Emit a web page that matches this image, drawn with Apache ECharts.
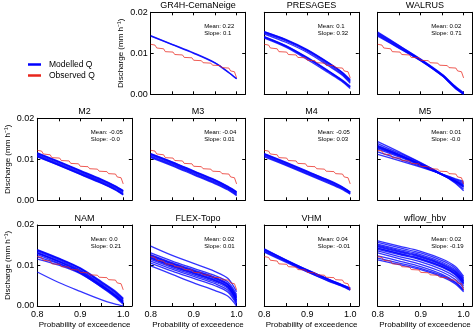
<!DOCTYPE html>
<html><head><meta charset="utf-8">
<script src="https://cdn.jsdelivr.net/npm/echarts@6/dist/echarts.min.js"></script>
<style>html,body{margin:0;padding:0;background:#fff}#c{width:474px;height:332px}</style>
</head><body><div id="c"></div>
<script>
// ---------- data ----------
const modelNames = ['GR4H-CemaNeige','PRESAGES','WALRUS','M2','M3','M4','M5','NAM','FLEX-Topo','VHM','wflow_hbv'];
const meanLabels = ['0.22','0.1','0.02','-0.05','-0.04','-0.05','0.01','0.0','0.02','0.04','0.02'];
const slopeLabels = ['0.1','0.32','0.71','-0.0','0.01','0.03','-0.0','0.21','0.01','-0.01','-0.19'];
const xTickLabels = ['0.8','0.9','1.0'];
const yTickLabels = ['0.00','0.01','0.02'];
const legendNames = ['Modelled Q','Observed Q'];

// observed flow duration (step-like)
const obsX = [0.800,0.810,0.814,0.830,0.834,0.852,0.856,0.874,0.878,0.896,0.900,0.918,0.922,0.940,0.944,0.962,0.966,0.982,0.986,0.995,1.000];
const obsQ = [0.0122,0.0120,0.0113,0.0111,0.0104,0.0103,0.0097,0.0096,0.0090,0.0089,0.0083,0.0082,0.0077,0.0076,0.0071,0.0070,0.0065,0.0064,0.0057,0.0055,0.0040];

// simulated ensembles: each row = one member, values at simX
const simX = [0.80,0.85,0.90,0.95,0.98,1.00];
const simGR4H = [
  [0.0142,0.0121,0.0100,0.0076,0.0054,0.0038],
  [0.0143,0.0122,0.0101,0.0077,0.0055,0.0038]
];
const simPRESAGES = [
  [0.0153,0.0134,0.0109,0.0077,0.0055,0.0036],
  [0.0152,0.0133,0.0108,0.0076,0.0054,0.0034],
  [0.0151,0.0132,0.0107,0.0075,0.0053,0.0033],
  [0.0149,0.0130,0.0105,0.0072,0.0050,0.0030],
  [0.0147,0.0127,0.0102,0.0069,0.0048,0.0027],
  [0.0141,0.0119,0.0090,0.0057,0.0036,0.0020],
  [0.0140,0.0118,0.0089,0.0056,0.0035,0.0018],
  [0.0139,0.0117,0.0088,0.0055,0.0034,0.0017],
  [0.0137,0.0115,0.0085,0.0052,0.0032,0.0014]
];
const simWALRUS = [
  [0.0152,0.0119,0.0086,0.0049,0.0020,0.0004],
  [0.0150,0.0118,0.0085,0.0048,0.0019,0.0003],
  [0.0148,0.0116,0.0084,0.0047,0.0018,0.0002],
  [0.0146,0.0115,0.0083,0.0046,0.0017,0.0001],
  [0.0144,0.0113,0.0082,0.0045,0.0016,0.0000],
  [0.0142,0.0112,0.0082,0.0045,0.0015,0.0000]
];
const simM2 = [
  [0.0116,0.0095,0.0073,0.0051,0.0036,0.0024],
  [0.0115,0.0094,0.0072,0.0050,0.0035,0.0023],
  [0.0114,0.0093,0.0071,0.0049,0.0034,0.0022],
  [0.0112,0.0091,0.0069,0.0047,0.0032,0.0020],
  [0.0110,0.0089,0.0067,0.0045,0.0030,0.0017],
  [0.0108,0.0087,0.0065,0.0043,0.0028,0.0015],
  [0.0107,0.0086,0.0064,0.0042,0.0027,0.0014],
  [0.0106,0.0085,0.0063,0.0041,0.0026,0.0013]
];
const simM3 = [
  [0.0114,0.0094,0.0072,0.0050,0.0034,0.0021],
  [0.0113,0.0093,0.0071,0.0049,0.0033,0.0020],
  [0.0112,0.0092,0.0070,0.0048,0.0032,0.0019],
  [0.0110,0.0090,0.0068,0.0046,0.0030,0.0017],
  [0.0108,0.0088,0.0066,0.0044,0.0029,0.0015],
  [0.0106,0.0086,0.0064,0.0042,0.0027,0.0013],
  [0.0104,0.0084,0.0062,0.0040,0.0025,0.0011]
];
const simM4 = [
  [0.0114,0.0093,0.0071,0.0049,0.0034,0.0020],
  [0.0113,0.0092,0.0070,0.0048,0.0033,0.0020],
  [0.0112,0.0091,0.0069,0.0047,0.0032,0.0019],
  [0.0110,0.0089,0.0067,0.0045,0.0030,0.0018],
  [0.0108,0.0087,0.0065,0.0043,0.0029,0.0016],
  [0.0106,0.0085,0.0063,0.0041,0.0027,0.0015]
];
const simM5 = [
  [0.0143,0.0118,0.0092,0.0063,0.0042,0.0023],
  [0.0138,0.0115,0.0091,0.0064,0.0044,0.0027],
  [0.0134,0.0112,0.0089,0.0063,0.0046,0.0031],
  [0.0132,0.0111,0.0088,0.0063,0.0046,0.0033],
  [0.0131,0.0110,0.0087,0.0062,0.0047,0.0034],
  [0.0129,0.0109,0.0087,0.0062,0.0047,0.0036],
  [0.0128,0.0108,0.0086,0.0062,0.0048,0.0037],
  [0.0125,0.0106,0.0085,0.0063,0.0049,0.0040],
  [0.0118,0.0101,0.0083,0.0064,0.0051,0.0043],
  [0.0112,0.0097,0.0081,0.0064,0.0053,0.0046]
];
const simNAM = [
  [0.0139,0.0118,0.0094,0.0060,0.0038,0.0019],
  [0.0138,0.0117,0.0093,0.0058,0.0036,0.0017],
  [0.0137,0.0116,0.0092,0.0057,0.0035,0.0016],
  [0.0135,0.0114,0.0089,0.0054,0.0032,0.0013],
  [0.0132,0.0111,0.0087,0.0052,0.0029,0.0010],
  [0.0131,0.0110,0.0085,0.0050,0.0027,0.0008],
  [0.0130,0.0109,0.0084,0.0049,0.0026,0.0007],
  [0.0127,0.0106,0.0081,0.0046,0.0023,0.0004],
  [0.0121,0.0104,0.0082,0.0050,0.0028,0.0012],
  [0.0116,0.0101,0.0080,0.0047,0.0025,0.0008],
  [0.0084,0.0058,0.0036,0.0015,0.0005,0.0000]
];
const simFLEX = [
  [0.0148,0.0125,0.0105,0.0085,0.0068,0.0035],
  [0.0131,0.0111,0.0093,0.0075,0.0059,0.0028],
  [0.0127,0.0107,0.0089,0.0071,0.0055,0.0024],
  [0.0125,0.0105,0.0087,0.0069,0.0053,0.0021],
  [0.0124,0.0104,0.0086,0.0068,0.0052,0.0020],
  [0.0121,0.0101,0.0083,0.0065,0.0049,0.0016],
  [0.0119,0.0099,0.0081,0.0063,0.0047,0.0014],
  [0.0118,0.0098,0.0080,0.0062,0.0046,0.0013],
  [0.0115,0.0095,0.0077,0.0059,0.0043,0.0010],
  [0.0111,0.0091,0.0073,0.0055,0.0039,0.0007],
  [0.0106,0.0086,0.0068,0.0050,0.0034,0.0004],
  [0.0099,0.0078,0.0057,0.0038,0.0024,0.0000]
];
const simVHM = [
  [0.0141,0.0114,0.0089,0.0066,0.0053,0.0044],
  [0.0140,0.0114,0.0089,0.0066,0.0053,0.0044],
  [0.0139,0.0113,0.0088,0.0065,0.0052,0.0043],
  [0.0137,0.0111,0.0087,0.0064,0.0051,0.0042],
  [0.0135,0.0110,0.0085,0.0062,0.0050,0.0040],
  [0.0133,0.0108,0.0084,0.0061,0.0049,0.0039]
];
const simWFLOW = [
  [0.0161,0.0148,0.0135,0.0116,0.0098,0.0073],
  [0.0157,0.0144,0.0131,0.0112,0.0094,0.0069],
  [0.0153,0.0140,0.0127,0.0108,0.0090,0.0066],
  [0.0150,0.0137,0.0124,0.0105,0.0087,0.0063],
  [0.0148,0.0135,0.0122,0.0103,0.0085,0.0061],
  [0.0146,0.0133,0.0120,0.0101,0.0083,0.0060],
  [0.0143,0.0130,0.0117,0.0098,0.0080,0.0057],
  [0.0142,0.0129,0.0116,0.0097,0.0079,0.0056],
  [0.0140,0.0127,0.0114,0.0095,0.0077,0.0054],
  [0.0136,0.0122,0.0109,0.0090,0.0072,0.0050],
  [0.0131,0.0117,0.0103,0.0084,0.0066,0.0045],
  [0.0124,0.0111,0.0097,0.0078,0.0060,0.0040],
  [0.0118,0.0106,0.0093,0.0075,0.0058,0.0038],
  [0.0114,0.0102,0.0090,0.0072,0.0055,0.0035]
];
const simAll = [simGR4H, simPRESAGES, simWALRUS, simM2, simM3, simM4, simM5, simNAM, simFLEX, simVHM, simWFLOW];

// ---------- layout ----------
const FONT = '"Liberation Sans", Arial, sans-serif';
const BLUE = '#0000ff', RED = '#e8261c';
const colLeft = [37.3, 150.7, 264.3, 377.7];
const panelW = 94.5;
const rowTop = [12.3, 118.3, 225];
const panelH = [82, 82, 81];
const slots = [[0,1],[0,2],[0,3],[1,0],[1,1],[1,2],[1,3],[2,0],[2,1],[2,2],[2,3]];

const grids = [], xAxes = [], yAxes = [], series = [], titles = [], graphics = [];
const tick = {show: true, inside: true, length: 3, lineStyle: {color: '#000', width: 1}};
const line = {show: true, onZero: false, lineStyle: {color: '#000', width: 1}};

slots.forEach(([r, c], i) => {
  const left = colLeft[c], top = rowTop[r], h = panelH[r];
  grids.push({left: left, top: top, width: panelW, height: h, containLabel: false});
  const showX = r === 2;
  const showY = c === 0 || (r === 0 && c === 1);
  xAxes.push({
    type: 'value', gridIndex: i, position: 'bottom', min: 0.8, max: 1.02, interval: 0.05,
    axisLine: line, axisTick: tick, splitLine: {show: false},
    axisLabel: {show: showX, margin: 4, fontSize: 9, color: '#000', fontFamily: FONT,
      showMaxLabel: false,
      formatter: v => {
        const s = (+v).toFixed(1);
        return (Math.abs(v * 10 - Math.round(v * 10)) < 1e-6 && xTickLabels.includes(s)) ? s : '';
      }},
    name: showX ? 'Probability of exceedence' : '', nameLocation: 'middle', nameGap: 15,
    nameTextStyle: {fontSize: 8, color: '#000', fontFamily: FONT}
  });
  xAxes.push({
    type: 'value', gridIndex: i, position: 'top', min: 0.8, max: 1.02, interval: 0.05,
    axisLine: line, axisTick: tick, splitLine: {show: false}, axisLabel: {show: false}
  });
  yAxes.push({
    type: 'value', gridIndex: i, position: 'left', min: 0, max: 0.02, interval: 0.01,
    axisLine: line, axisTick: tick, splitLine: {show: false},
    axisLabel: {show: showY, margin: 3, fontSize: 9, color: '#000', fontFamily: FONT,
      formatter: v => yTickLabels[Math.round(v / 0.01)] || ''},
    name: showY ? 'Discharge (mm h\u207B\u00B9)' : '', nameLocation: 'middle', nameGap: 26, nameRotate: 90,
    nameTextStyle: {fontSize: 8, color: '#000', fontFamily: FONT}
  });
  yAxes.push({
    type: 'value', gridIndex: i, position: 'right', min: 0, max: 0.02, interval: 0.01,
    axisLine: line, axisTick: tick, splitLine: {show: false}, axisLabel: {show: false}
  });
  simAll[i].forEach(member => {
    series.push({
      type: 'line', name: legendNames[0], xAxisIndex: 2 * i, yAxisIndex: 2 * i,
      data: simX.map((x, j) => [x, member[j]]),
      showSymbol: false, smooth: 0.3, silent: true,
      itemStyle: {color: BLUE}, lineStyle: {color: BLUE, width: 1.3, opacity: 0.8}
    });
  });
  series.push({
    type: 'line', name: legendNames[1], xAxisIndex: 2 * i, yAxisIndex: 2 * i,
    data: obsX.map((x, j) => [x, obsQ[j]]),
    showSymbol: false, silent: true, z: 3,
    itemStyle: {color: RED}, lineStyle: {color: RED, width: 1, opacity: 0.75}
  });
  titles.push({
    text: modelNames[i], left: left + panelW / 2, top: top - 11, textAlign: 'center', padding: 0,
    textStyle: {fontSize: 9, fontWeight: 'normal', color: '#000', fontFamily: FONT}
  });
  graphics.push({type: 'text', left: left + 53.5, top: top + 11,
    style: {text: 'Mean: ' + meanLabels[i], fontSize: 6, fill: '#000', fontFamily: FONT}});
  graphics.push({type: 'text', left: left + 53.5, top: top + 18,
    style: {text: 'Slope: ' + slopeLabels[i], fontSize: 6, fill: '#000', fontFamily: FONT}});
});

const chart = echarts.init(document.getElementById('c'), null, {renderer: 'canvas'});
chart.setOption({
  animation: false,
  backgroundColor: '#fff',
  title: titles,
  legend: {
    orient: 'vertical', left: 23, top: 55, itemWidth: 13, itemHeight: 2.5, itemGap: 2, icon: 'rect',
    selectedMode: false,
    textStyle: {fontSize: 8.5, color: '#000', fontFamily: FONT, padding: [0, 0, 0, 3]},
    data: [{name: legendNames[0], itemStyle: {color: BLUE}}, {name: legendNames[1], itemStyle: {color: RED}}]
  },
  grid: grids, xAxis: xAxes, yAxis: yAxes, series: series, graphic: graphics
});
</script></body></html>
